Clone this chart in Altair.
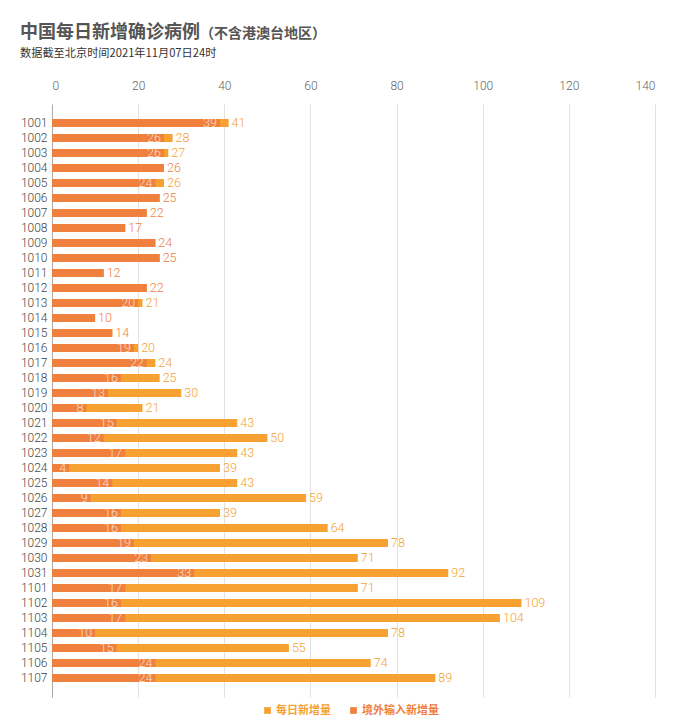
import altair as alt
import pandas as pd

dates = ["1001", "1002", "1003", "1004", "1005", "1006", "1007", "1008", "1009", "1010",
         "1011", "1012", "1013", "1014", "1015", "1016", "1017", "1018", "1019", "1020",
         "1021", "1022", "1023", "1024", "1025", "1026", "1027", "1028", "1029", "1030",
         "1031", "1101", "1102", "1103", "1104", "1105", "1106", "1107"]
total = [41, 28, 27, 26, 26, 25, 22, 17, 24, 25,
         12, 22, 21, 10, 14, 20, 24, 25, 30, 21,
         43, 50, 43, 39, 43, 59, 39, 64, 78, 71,
         92, 71, 109, 104, 78, 55, 74, 89]
imported = [39, 26, 26, 26, 24, 25, 22, 17, 24, 25,
            12, 22, 20, 10, 14, 19, 22, 16, 13, 8,
            15, 12, 17, 4, 14, 9, 16, 16, 19, 23,
            33, 17, 16, 17, 10, 15, 24, 24]
tick_values = [0, 20, 40, 60, 80, 100, 120, 140]
series_names = ["每日新增量", "境外输入新增量"]
title_main = "中国每日新增确诊病例"
title_paren = "（不含港澳台地区）"
subtitle = "数据截至北京时间2021年11月07日24时"

YEL = "#F6A131"
RED = "#F0803E"
CJK = "Noto Sans CJK SC"
NUM = "Roboto"

df = pd.DataFrame({"date": dates, "total": total, "imported": imported})

y_enc = alt.Y(
    "date:O", sort=None,
    scale=alt.Scale(paddingInner=0.47, paddingOuter=1),
    axis=alt.Axis(title=None, ticks=False, domain=True, domainColor="#a8a8a8",
                  domainWidth=1, labelPadding=5, labelFont=NUM, labelFontSize=12,
                  labelFontWeight=300, labelColor="#444444", grid=False),
)
x_scale = alt.Scale(domain=[0, 140], nice=False)
x_axis = alt.Axis(orient="top", values=tick_values, title=None, ticks=False, domain=False,
                  grid=True, gridColor="#e2e2e2", gridWidth=1, labelPadding=12,
                  labelFont=NUM, labelFontSize=12, labelColor="#666666", labelFontWeight=300)

base = alt.Chart(df)

total_bar = base.transform_calculate(s="'每日新增量'").mark_bar().encode(
    y=y_enc,
    x=alt.X("total:Q", scale=x_scale, axis=x_axis),
    color=alt.Color("s:N", scale=alt.Scale(domain=[series_names[0]], range=[YEL]),
                    legend=alt.Legend(title=None, orient="none", legendX=210, legendY=601,
                                      symbolType="square", symbolSize=45, labelFont=CJK,
                                      labelFontSize=11, labelFontWeight="bold",
                                      labelColor=YEL, labelOffset=3)),
)

imp_bar = base.transform_calculate(s="'境外输入新增量'").mark_bar().encode(
    y=alt.Y("date:O", sort=None),
    x=alt.X("imported:Q"),
    color=alt.Color("s:N", scale=alt.Scale(domain=[series_names[1]], range=[RED]),
                    legend=alt.Legend(title=None, orient="none", legendX=296, legendY=601,
                                      symbolType="square", symbolSize=45, labelFont=CJK,
                                      labelFontSize=11, labelFontWeight="bold",
                                      labelColor=RED, labelOffset=3)),
)

outer_lbl = base.mark_text(align="left", baseline="middle", dx=3, font=NUM,
                           fontSize=12.5, fontWeight=300).encode(
    y=alt.Y("date:O", sort=None),
    x=alt.X("total:Q"),
    text=alt.Text("total:Q"),
    color=alt.condition("datum.total == datum.imported", alt.value(RED), alt.value(YEL)),
)

inner_lbl = base.transform_filter("datum.total != datum.imported").mark_text(
    align="right", baseline="middle", dx=-3, font=NUM, fontSize=12.5, fontWeight=300,
    color="white", opacity=0.72).encode(
    y=alt.Y("date:O", sort=None),
    x=alt.X("imported:Q"),
    text=alt.Text("imported:Q"),
)

one = pd.DataFrame({"k": [0]})
t_main = alt.Chart(one).mark_text(
    align="left", baseline="alphabetic", font=CJK, fontSize=18, fontWeight="bold",
    color="#555555", text=title_main).encode(x=alt.value(-32), y=alt.value(-66))
t_paren = alt.Chart(one).mark_text(
    align="left", baseline="alphabetic", font=CJK, fontSize=14, fontWeight="bold",
    color="#555555", text=title_paren).encode(x=alt.value(148), y=alt.value(-66))
t_sub = alt.Chart(one).mark_text(
    align="left", baseline="alphabetic", font=CJK, fontSize=11.2,
    color="#333333", text=subtitle).encode(x=alt.value(-32), y=alt.value(-47))

chart = alt.layer(total_bar, imp_bar, outer_lbl, inner_lbl, t_main, t_paren, t_sub).resolve_scale(
    color="independent"
).properties(
    width=603, height=593,
    autosize=alt.AutoSizeParams(type="none"),
    padding={"left": 52, "top": 104, "right": 41, "bottom": 25},
    background="white",
).configure_view(stroke=None)

chart.save("out.html", embed_options={"renderer": "svg", "actions": False})
